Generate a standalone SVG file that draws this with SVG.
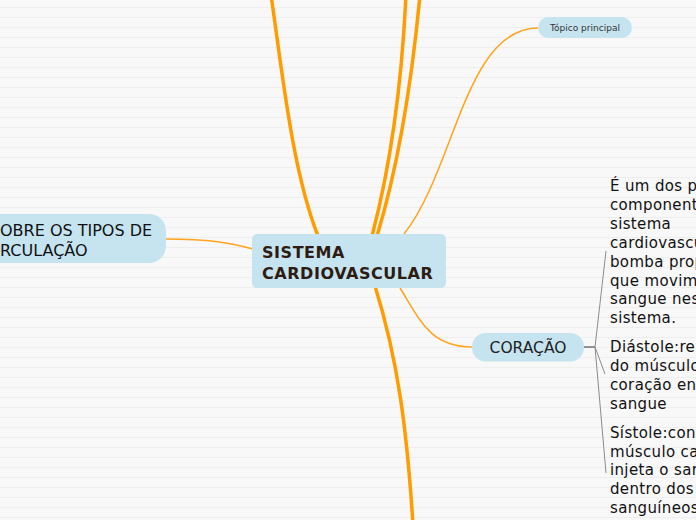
<svg xmlns="http://www.w3.org/2000/svg" width="696" height="520" viewBox="0 0 696 520">
<defs>
<pattern id="bg" width="696" height="10" patternUnits="userSpaceOnUse" y="0">
<rect width="696" height="10" fill="#f8f8f8"/>
<rect y="7" width="696" height="1" fill="#eeeeee"/>
</pattern>
<style>
.thick{fill:none;stroke:#ff9c00;stroke-width:3.5;stroke-linecap:round}
.thin{fill:none;stroke:#ffa41c;stroke-width:1.5}
.grey{fill:none;stroke:#8c8c8c;stroke-width:1}
.node{fill:#c5e4f0}
.t{font-family:"DejaVu Sans","Verdana",sans-serif}
.body{font-size:15px;fill:#111;letter-spacing:0.35px}
</style>
</defs>
<rect width="696" height="520" fill="url(#bg)"/>
<g id="connectors">
<path class="thick" d="M318,236 C292,170 282,70 271,-5"/>
<path class="thick" d="M372,236 C392,160 402,80 406,-5"/>
<path class="thick" d="M377,236 C400,160 412,80 420,-5"/>
<path class="thick" d="M375,286 C398,360 407,430 413,525"/>
<path class="thin" d="M404,234 C455,170 465,28 538,28"/>
<path class="thin" d="M166,239 C210,239 230,243 253,249"/>
<path class="thin" d="M400,288 C420,320 430,347 472,347"/>
<path d="M584,347 L595,347" fill="none" stroke="#333" stroke-width="1"/>
<path class="grey" d="M595,347 L606,251"/>
<path class="grey" d="M595,347 L605,374"/>
<path class="grey" d="M595,347 L606,473"/>
</g>
<g id="central">
<rect class="node" x="252" y="234" width="194" height="54" rx="5"/>
<text class="t" x="262" y="258" font-size="16" font-weight="bold" letter-spacing="0.55" fill="#2e1c12">SISTEMA</text>
<text class="t" x="262" y="279" font-size="16" font-weight="bold" letter-spacing="0.55" fill="#2e1c12">CARDIOVASCULAR</text>
</g>
<g id="topico">
<rect class="node" x="538" y="17" width="94" height="21" rx="10.5"/>
<text class="t" x="585" y="31" font-size="9" text-anchor="middle" fill="#333">Tópico principal</text>
</g>
<g id="tipos">
<rect class="node" x="-30" y="214" width="196" height="49" rx="17"/>
<text class="t" x="0" y="236" font-size="16" fill="#111">OBRE OS TIPOS DE</text>
<text class="t" x="0" y="255.5" font-size="16" fill="#111">RCULAÇÃO</text>
</g>
<g id="coracao">
<rect class="node" x="472" y="333" width="112" height="28.5" rx="14"/>
<text class="t" x="528" y="353" font-size="15.5" text-anchor="middle" fill="#222">CORAÇÃO</text>
</g>
<g id="texto1">
<text class="t body" x="610" y="191">É um dos p</text>
<text class="t body" x="610" y="209.9">component</text>
<text class="t body" x="610" y="228.8">sistema</text>
<text class="t body" x="610" y="247.7">cardiovascu</text>
<text class="t body" x="610" y="266.6">bomba prop</text>
<text class="t body" x="610" y="285.5">que movim</text>
<text class="t body" x="610" y="304.4">sangue nes</text>
<text class="t body" x="610" y="323.3">sistema.</text>
</g>
<g id="texto2">
<text class="t body" x="610" y="352">Diástole:re</text>
<text class="t body" x="610" y="370.9">do músculo</text>
<text class="t body" x="610" y="389.8">coração en</text>
<text class="t body" x="610" y="408.7">sangue</text>
</g>
<g id="texto3">
<text class="t body" x="610" y="437.6">Sístole:con</text>
<text class="t body" x="610" y="456.5">músculo ca</text>
<text class="t body" x="610" y="475.4">injeta o sar</text>
<text class="t body" x="610" y="494.3">dentro dos</text>
<text class="t body" x="610" y="513.2">sanguíneos</text>
</g>
</svg>
